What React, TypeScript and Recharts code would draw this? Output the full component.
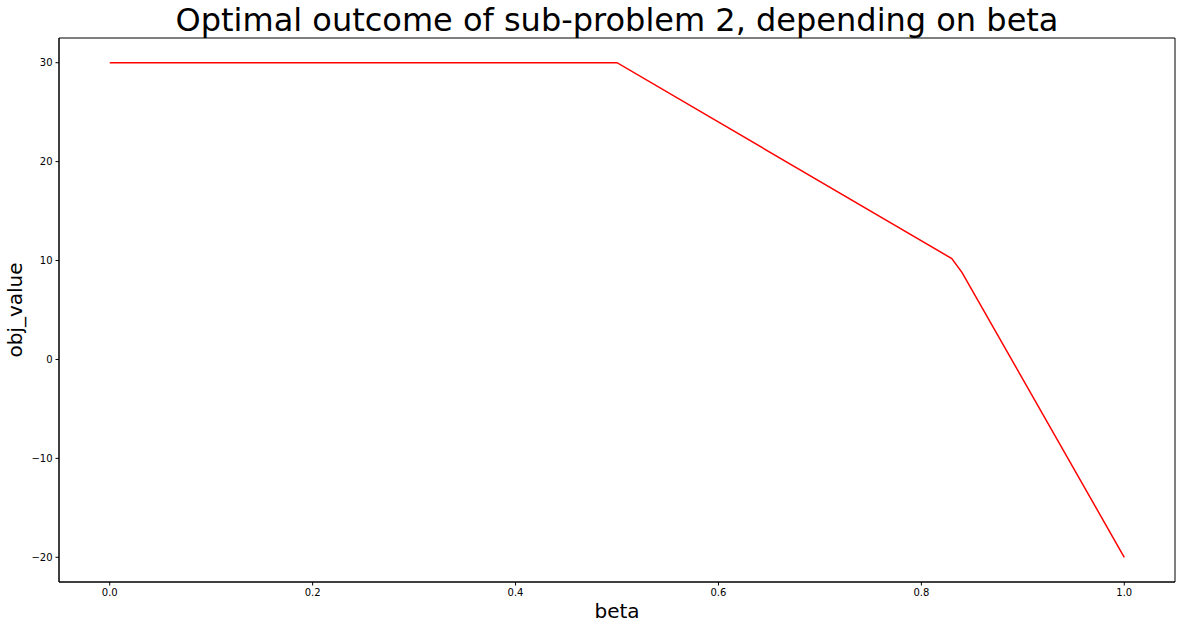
import React from "react";
import { LineChart, Line, XAxis, YAxis, ReferenceArea } from "recharts";

const betaValues = [0.0, 0.5, 0.83, 0.84, 1.0];
const objValues = [30, 30, 10.2, 8.8, -20];
const xTicks = [0, 0.2, 0.4, 0.6, 0.8, 1.0];
const yTicks = [-20, -10, 0, 10, 20, 30];

const data = betaValues.map((b, i) => ({ beta: b, obj: objValues[i] }));

const FONT = "'DejaVu Sans', sans-serif";

const fmtY = (v: number) => (v < 0 ? "\u2212" + Math.abs(v) : String(v));

export default function App() {
  return (
    <div
      style={{
        position: "fixed",
        left: 0,
        top: 0,
        width: 1182,
        height: 629,
        background: "#fff",
        fontFamily: FONT,
      }}
    >
      <div
        style={{
          position: "absolute",
          left: 59,
          width: 1116,
          top: 0,
          textAlign: "center",
          fontSize: 32,
          lineHeight: "40px",
          color: "#000",
        }}
      >
        Optimal outcome of sub-problem 2, depending on beta
      </div>
      <div
        style={{
          position: "absolute",
          left: 617 - 100,
          width: 200,
          top: 599,
          textAlign: "center",
          fontSize: 20,
          lineHeight: "24px",
          color: "#000",
        }}
      >
        beta
      </div>
      <div
        style={{
          position: "absolute",
          left: 15 - 100,
          top: 310 - 12,
          width: 200,
          height: 24,
          textAlign: "center",
          fontSize: 20,
          lineHeight: "24px",
          color: "#000",
          transform: "rotate(-90deg)",
        }}
      >
        obj_value
      </div>
      <div style={{ position: "absolute", left: 0, top: 0 }}>
        <LineChart
          width={1182}
          height={629}
          data={data}
          margin={{ top: 38, right: 7, bottom: 17, left: 9 }}
        >
          <XAxis
            dataKey="beta"
            type="number"
            domain={[-0.05, 1.05]}
            ticks={xTicks}
            allowDataOverflow
            height={30}
            tickFormatter={(v: number) => v.toFixed(1)}
            tick={{ fontSize: 10, fill: "#000", fontFamily: FONT }}
            tickSize={3.5}
            tickMargin={3}
            axisLine={{ stroke: "#000", strokeWidth: 1 }}
            tickLine={{ stroke: "#000", strokeWidth: 1 }}
          />
          <YAxis
            type="number"
            domain={[-22.5, 32.5]}
            ticks={yTicks}
            allowDataOverflow
            width={50}
            tickFormatter={fmtY}
            tick={{ fontSize: 10, fill: "#000", fontFamily: FONT }}
            tickSize={3.5}
            tickMargin={3}
            axisLine={{ stroke: "#000", strokeWidth: 1 }}
            tickLine={{ stroke: "#000", strokeWidth: 1 }}
          />
          <ReferenceArea
            x1={-0.05}
            x2={1.05}
            y1={-22.5}
            y2={32.5}
            stroke="#000"
            strokeWidth={1}
            fill="none"
            fillOpacity={0}
            ifOverflow="visible"
          />
          <Line
            dataKey="obj"
            stroke="#ff0000"
            strokeWidth={1.5}
            dot={false}
            isAnimationActive={false}
            type="linear"
          />
        </LineChart>
      </div>
    </div>
  );
}
